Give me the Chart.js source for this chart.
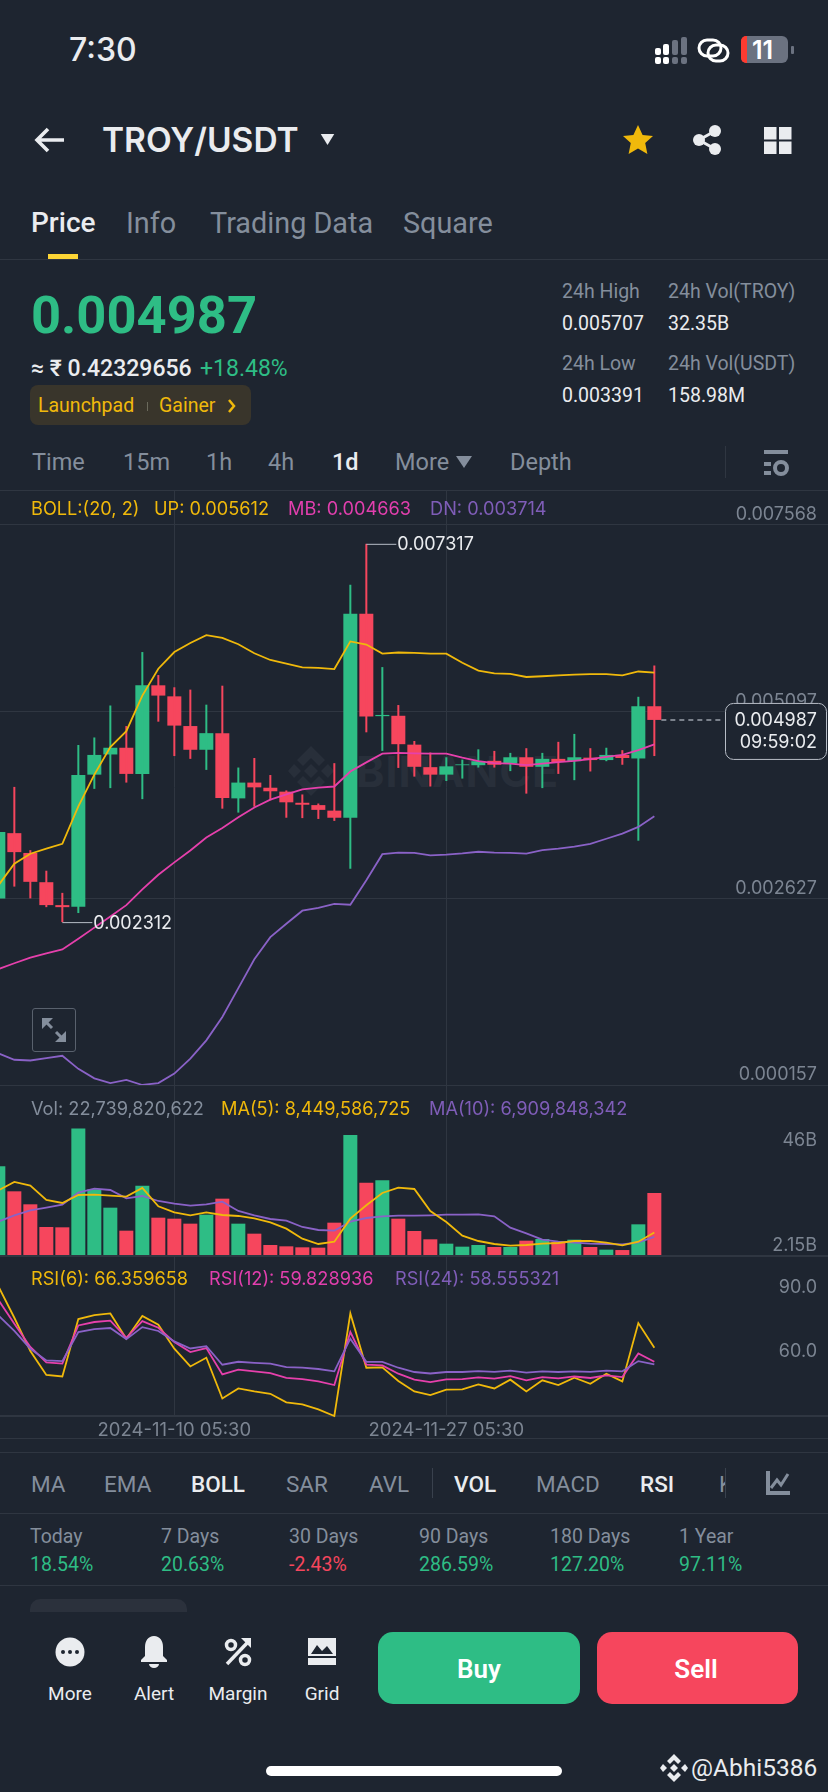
<!DOCTYPE html>
<html>
<head>
<meta charset="utf-8">
<title>TROY/USDT</title>
<script src="https://cdn.jsdelivr.net/npm/chart.js@4/dist/chart.umd.min.js"></script>
<style>
html,body{margin:0;padding:0;background:#1e2530;}
#page{position:relative;width:828px;height:1792px;overflow:hidden;background:#1e2530;font-family:Inter,Roboto,sans-serif;color:#eaecef;}
#page canvas{position:absolute;left:0;}
.t{position:absolute;white-space:nowrap;transform:translateY(-50%);line-height:1;}
.dim{color:#848e9c;}
.line{position:absolute;left:0;width:828px;height:1px;background:#2f3641;}
.g{color:#2ebd85;}
.r{color:#f6465d;}
.y{color:#f0b90b;}
.leg{font-size:18.2px;}
.stat{font-size:19.5px;font-family:Roboto,sans-serif;}
.head{font-size:19.5px;font-family:Roboto,sans-serif;}
.tf{font-size:23.5px;font-family:Roboto,sans-serif;color:#848e9c;}
.ind{font-size:22.5px;font-family:Roboto,sans-serif;color:#848e9c;}
.tab{font-size:28.8px;font-family:Roboto,sans-serif;}
.on{color:#eaecef;font-weight:500;}
svg{position:absolute;}
</style>
</head>
<body>
<div id="page">
  <!-- status bar -->
  <div class="t" style="left:69px;top:50px;font-size:32px;font-weight:500;">7:30</div>
  <svg style="left:654px;top:36px" width="142" height="28" viewBox="0 0 142 28">
    <g fill="#fff"><rect x="1" y="12" width="6" height="7" rx="2"/><rect x="1" y="21" width="6" height="7" rx="2"/><rect x="9" y="8" width="6" height="11" rx="2"/><rect x="9" y="21" width="6" height="7" rx="2"/></g>
    <g fill="#6b7280"><rect x="18" y="4" width="6" height="15" rx="2"/><rect x="18" y="21" width="6" height="7" rx="2"/><rect x="27" y="1" width="6" height="18" rx="2"/><rect x="27" y="21" width="6" height="7" rx="2"/></g>
    <g fill="none" stroke="#fff" stroke-width="3"><rect x="45" y="4" width="22" height="16" rx="8"/><rect x="54" y="9" width="20" height="16" rx="8"/></g>
    <rect x="87" y="0" width="47" height="27" rx="6" fill="#6b7280"/>
    <path d="M93 0h-1a5 5 0 0 0-5 5v17a5 5 0 0 0 5 5h1z" fill="#ff3b30"/>
    <rect x="137" y="10" width="3" height="8" rx="1" fill="#6b7280"/>
  </svg>
  <div class="t" style="left:752px;top:50px;font-size:25px;font-weight:600;color:#fff;">11</div>

  <!-- header -->
  <svg style="left:34px;top:126px" width="32" height="28" viewBox="0 0 32 28"><path d="M30 14H4M14 3L3 14l11 11" fill="none" stroke="#eaecef" stroke-width="3.6"/></svg>
  <div class="t" style="left:102px;top:141px;font-size:33.5px;font-weight:600;">TROY/USDT</div>
  <svg style="left:320px;top:134px" width="15" height="11" viewBox="0 0 16 13"><path d="M0 0h16L8 13z" fill="#eaecef"/></svg>
  <svg style="left:622px;top:124px" width="32" height="32" viewBox="0 0 32 32"><path d="M16 1l4.6 10 10.4 1-7.8 7 2.2 11L16 24.6 6.600 30l2.200-11L1 12l10.400-1z" fill="#f0b90b"/></svg>
  <svg style="left:692px;top:125px" width="30" height="30" viewBox="0 0 30 30"><g fill="#eaecef"><circle cx="23" cy="6" r="6"/><circle cx="7" cy="15" r="6"/><circle cx="23" cy="24" r="6"/></g><path d="M23 6L7 15l16 9" fill="none" stroke="#eaecef" stroke-width="3"/></svg>
  <svg style="left:764px;top:127px" width="28" height="27" viewBox="0 0 28 27"><g fill="#eaecef"><rect width="12.500" height="12.500"/><rect x="15" width="12.500" height="12.500"/><rect y="14.500" width="12.500" height="12.500"/><rect x="15" y="14.500" width="12.500" height="12.500"/></g></svg>

  <!-- tabs -->
  <div class="t on" style="left:31px;top:223px;font-size:28px;font-family:Roboto,sans-serif;">Price</div>
  <div class="t tab dim" style="left:126px;top:223px;">Info</div>
  <div class="t tab dim" style="left:210px;top:223px;">Trading Data</div>
  <div class="t tab dim" style="left:403px;top:223px;">Square</div>
  <div style="position:absolute;left:48px;top:254px;width:30px;height:5px;background:#fcd535;"></div>
  <div class="line" style="top:259px;"></div>

  <!-- price block -->
  <div class="t g" style="left:31px;top:315px;font-size:52.5px;font-weight:700;font-family:Roboto,sans-serif;">0.004987</div>
  <div class="t" style="left:31px;top:368px;font-size:23px;font-family:Roboto,sans-serif;font-weight:500;">≈ ₹ 0.42329656</div>
  <div class="t g" style="left:200px;top:368px;font-size:23px;font-family:Roboto,sans-serif;">+18.48%</div>
  <div style="position:absolute;left:30px;top:385px;width:221px;height:40px;border-radius:8px;background:#39352b;"></div>
  <div class="t y" style="left:38px;top:406px;font-size:19.5px;font-family:Roboto,sans-serif;">Launchpad</div>
  <div style="position:absolute;left:147px;top:402px;width:1px;height:9px;background:#6b6a5c;"></div>
  <div class="t y" style="left:159px;top:406px;font-size:19.5px;font-family:Roboto,sans-serif;">Gainer</div>
  <svg style="left:227px;top:399px" width="9" height="14" viewBox="0 0 9 14"><path d="M2 1l5 6-5 6" fill="none" stroke="#f0b90b" stroke-width="2.500"/></svg>
  <div class="t dim head" style="left:562px;top:292px;">24h High</div>
  <div class="t dim head" style="left:668px;top:292px;">24h Vol(TROY)</div>
  <div class="t head" style="left:562px;top:324px;">0.005707</div>
  <div class="t head" style="left:668px;top:324px;">32.35B</div>
  <div class="t dim head" style="left:562px;top:364px;">24h Low</div>
  <div class="t dim head" style="left:668px;top:364px;">24h Vol(USDT)</div>
  <div class="t head" style="left:562px;top:396px;">0.003391</div>
  <div class="t head" style="left:668px;top:396px;">158.98M</div>

  <!-- timeframes -->
  <div class="t tf" style="left:32px;top:463px;">Time</div>
  <div class="t tf" style="left:123px;top:463px;">15m</div>
  <div class="t tf" style="left:206px;top:463px;">1h</div>
  <div class="t tf" style="left:268px;top:463px;">4h</div>
  <div class="t tf on" style="left:332px;top:463px;">1d</div>
  <div class="t tf" style="left:395px;top:463px;">More</div>
  <svg style="left:456px;top:456px" width="16" height="12" viewBox="0 0 16 12"><path d="M0 0h16L8 12z" fill="#848e9c"/></svg>
  <div class="t tf" style="left:510px;top:463px;">Depth</div>
  <div style="position:absolute;left:725px;top:446px;width:1px;height:32px;background:#2f3641;"></div>
  <svg style="left:764px;top:450px" width="26" height="28" viewBox="0 0 26 28"><g fill="#848e9c"><rect width="24" height="4"/><rect y="12" width="7" height="4"/><rect y="21" width="7" height="4"/></g><circle cx="17" cy="18" r="6" fill="none" stroke="#848e9c" stroke-width="4"/></svg>
  <div class="line" style="top:490px;"></div>

  <!-- watermark sits under the charts -->
  <svg style="left:288px;top:746px" width="46" height="50" viewBox="0 0 46 50"><g fill="#282f3a"><path d="M23 0l14 14-6 6-8-8-8 8-6-6z"/><path d="M23 50L9 36l6-6 8 8 8-8 6 6z"/><path d="M23 18l7 7-7 7-7-7z"/><path d="M6 18l7 7-7 7-6-7z"/><path d="M40 18l6 7-6 7-7-7z"/></g></svg>
  <div class="t" style="left:356px;top:771px;font-size:43px;font-weight:700;color:#282f3a;letter-spacing:1px;">BINANCE</div>

  <canvas id="priceChart" width="828" height="596" style="top:490px"></canvas>
  <canvas id="volChart" width="828" height="172" style="top:1085px"></canvas>
  <canvas id="rsiChart" width="828" height="184" style="top:1256px"></canvas>

  <!-- indicator legends -->
  <div class="t leg y" style="left:31px;top:508px;">BOLL:(20, 2)</div>
  <div class="t leg y" style="left:154px;top:508px;">UP: 0.005612</div>
  <div class="t leg" style="left:288px;top:508px;color:#e23fae;">MB: 0.004663</div>
  <div class="t leg" style="left:430px;top:508px;color:#7f5db8;">DN: 0.003714</div>
  <div class="t leg dim" style="left:31px;top:1108px;">Vol: 22,739,820,622</div>
  <div class="t leg y" style="left:221px;top:1108px;">MA(5): 8,449,586,725</div>
  <div class="t leg" style="left:429px;top:1108px;color:#7f5db8;">MA(10): 6,909,848,342</div>
  <div class="t leg y" style="left:31px;top:1278px;">RSI(6): 66.359658</div>
  <div class="t leg" style="left:209px;top:1278px;color:#e23fae;">RSI(12): 59.828936</div>
  <div class="t leg" style="left:395px;top:1278px;color:#7f5db8;">RSI(24): 58.555321</div>

  <!-- expand button -->
  <div style="position:absolute;left:32px;top:1008px;width:42px;height:42px;border:1px solid #59616d;border-radius:3px;"></div>
  <svg style="left:41px;top:1017px" width="26" height="26" viewBox="0 0 26 26"><g fill="none" stroke="#848e9c" stroke-width="3"><path d="M3 3l8 8M15 15l8 8"/></g><path d="M1 1h11L1 12zM25 25H14l11-11z" fill="#848e9c"/></svg>

  <div class="line" style="top:1438px;"></div>
  <div class="line" style="top:1452px;"></div>

  <!-- indicator tabs -->
  <div class="t ind" style="left:31px;top:1484px;">MA</div>
  <div class="t ind" style="left:104px;top:1484px;">EMA</div>
  <div class="t ind on" style="left:191px;top:1484px;">BOLL</div>
  <div class="t ind" style="left:286px;top:1484px;">SAR</div>
  <div class="t ind" style="left:369px;top:1484px;">AVL</div>
  <div style="position:absolute;left:432px;top:1468px;width:1px;height:30px;background:#39414d;"></div>
  <div class="t ind on" style="left:454px;top:1484px;">VOL</div>
  <div class="t ind" style="left:536px;top:1484px;">MACD</div>
  <div class="t ind on" style="left:640px;top:1484px;">RSI</div>
  <div style="position:absolute;left:719px;top:1470px;width:6px;height:30px;overflow:hidden;"><div class="t ind" style="left:0;top:14px;">K</div></div>
  <div style="position:absolute;left:725px;top:1468px;width:1px;height:30px;background:#39414d;"></div>
  <svg style="left:766px;top:1471px" width="24" height="25" viewBox="0 0 24 25"><path d="M2 0v22h22" fill="none" stroke="#848e9c" stroke-width="4"/><path d="M5 17l6-8 4 5 7-11" fill="none" stroke="#848e9c" stroke-width="3"/></svg>
  <div class="line" style="top:1513px;"></div>

  <!-- period stats -->
  <div class="t dim stat" style="left:30px;top:1537px;">Today</div>
  <div class="t dim stat" style="left:161px;top:1537px;">7 Days</div>
  <div class="t dim stat" style="left:289px;top:1537px;">30 Days</div>
  <div class="t dim stat" style="left:419px;top:1537px;">90 Days</div>
  <div class="t dim stat" style="left:550px;top:1537px;">180 Days</div>
  <div class="t dim stat" style="left:679px;top:1537px;">1 Year</div>
  <div class="t g stat" style="left:30px;top:1565px;">18.54%</div>
  <div class="t g stat" style="left:161px;top:1565px;">20.63%</div>
  <div class="t r stat" style="left:289px;top:1565px;">-2.43%</div>
  <div class="t g stat" style="left:419px;top:1565px;">286.59%</div>
  <div class="t g stat" style="left:550px;top:1565px;">127.20%</div>
  <div class="t g stat" style="left:679px;top:1565px;">97.11%</div>
  <div class="line" style="top:1585px;"></div>
  <div style="position:absolute;left:30px;top:1599px;width:157px;height:13px;background:#2b313c;border-radius:10px 10px 0 0;"></div>

  <!-- bottom actions -->
  <svg style="left:55px;top:1637px" width="30" height="30" viewBox="0 0 30 30"><circle cx="15" cy="15" r="14.500" fill="#eaecef"/><g fill="#1e2530"><circle cx="8" cy="15" r="2"/><circle cx="15" cy="15" r="2"/><circle cx="22" cy="15" r="2"/></g></svg>
  <svg style="left:140px;top:1636px" width="28" height="32" viewBox="0 0 28 32"><path d="M14 0c6 0 9 5 9 11v9l4 4v2H1v-2l4-4v-9C5 5 8 0 14 0z" fill="#eaecef"/><path d="M9 28h10a5 4 0 0 1-10 0z" fill="#eaecef"/></svg>
  <svg style="left:224px;top:1638px" width="28" height="29" viewBox="0 0 28 29"><g fill="none" stroke="#eaecef" stroke-width="3.500"><circle cx="7" cy="7" r="4.500"/><circle cx="21" cy="22" r="4.500"/><path d="M3 26L25 3"/></g><path d="M17 0h10v10z" fill="#eaecef"/></svg>
  <svg style="left:308px;top:1638px" width="28" height="28" viewBox="0 0 28 28"><path d="M0 0h28v18H0z" fill="#eaecef"/><path d="M3 16l6-9 5 6 5-5 6 8z" fill="#1e2530"/><rect y="20" width="28" height="7" fill="#eaecef"/></svg>
  <div class="t" style="left:70px;top:1693px;transform:translate(-50%,-50%);font-size:19px;font-family:Roboto,sans-serif;">More</div>
  <div class="t" style="left:154px;top:1693px;transform:translate(-50%,-50%);font-size:19px;font-family:Roboto,sans-serif;">Alert</div>
  <div class="t" style="left:238px;top:1693px;transform:translate(-50%,-50%);font-size:19px;font-family:Roboto,sans-serif;">Margin</div>
  <div class="t" style="left:322px;top:1693px;transform:translate(-50%,-50%);font-size:19px;font-family:Roboto,sans-serif;">Grid</div>
  <div style="position:absolute;left:378px;top:1632px;width:202px;height:72px;border-radius:15px;background:#2ebd85;"></div>
  <div style="position:absolute;left:597px;top:1632px;width:201px;height:72px;border-radius:15px;background:#f6465d;"></div>
  <div class="t" style="left:479px;top:1669px;transform:translate(-50%,-50%);font-size:26px;font-weight:600;color:#fff;font-family:Roboto,sans-serif;">Buy</div>
  <div class="t" style="left:696px;top:1669px;transform:translate(-50%,-50%);font-size:26px;font-weight:600;color:#fff;font-family:Roboto,sans-serif;">Sell</div>
  <div style="position:absolute;left:266px;top:1766px;width:296px;height:10px;border-radius:5px;background:#fff;"></div>
  <svg style="left:660px;top:1754px" width="28" height="28" viewBox="0 0 28 28"><g fill="#eaecef"><path d="M14 0l7 7-3 3-4-4-4 4-3-3z"/><path d="M14 28l-7-7 3-3 4 4 4-4 3 3z"/><path d="M14 10l4 4-4 4-4-4z"/><path d="M3 10l4 4-4 4-3-4z"/><path d="M25 10l3 4-3 4-4-4z"/></g></svg>
  <div class="t" style="left:691px;top:1768px;font-size:24.500px;font-family:Roboto,sans-serif;color:#eaecef;">@Abhi5386</div>
</div>

<script>
// candles, oldest first. first one is mostly cut off by the left edge
const dates = ['2024-10-30','2024-10-31','2024-11-01','2024-11-02','2024-11-03','2024-11-04','2024-11-05','2024-11-06','2024-11-07','2024-11-08','2024-11-09','2024-11-10','2024-11-11','2024-11-12','2024-11-13','2024-11-14','2024-11-15','2024-11-16','2024-11-17','2024-11-18','2024-11-19','2024-11-20','2024-11-21','2024-11-22','2024-11-23','2024-11-24','2024-11-25','2024-11-26','2024-11-27','2024-11-28','2024-11-29','2024-11-30','2024-12-01','2024-12-02','2024-12-03','2024-12-04','2024-12-05','2024-12-06','2024-12-07','2024-12-08','2024-12-09','2024-12-10'];
const xTickDates = ['2024-11-10','2024-11-27'];

// prices in millionths of a USDT
const opens  = [2626,3489,3227,2840,2537,2516,4263,4530,4619,4273,5445,5299,4906,4592,4812,3949,4158,4090,4038,3891,3860,3787,3693,6392,5037,5042,4660,4362,4263,4388,4388,4446,4409,4493,4367,4472,4441,4488,4456,4524,4477,5168];
const highs  = [3750,4101,3264,2992,2699,4655,4755,5178,4906,5885,5581,5419,5388,5189,5440,4357,4483,4258,4054,4001,3881,4415,6774,7317,5686,5184,4708,4556,4493,4462,4598,4577,4551,4613,4551,4697,4802,4613,4619,4587,5293,5707];
const lows   = [2537,2782,2626,2510,2312,2432,4075,4085,4158,3939,4964,4509,4472,4326,3813,3761,3839,3923,3693,3688,3677,3651,3018,4823,4577,4352,4237,4106,4179,4211,4357,4357,4310,4012,4085,4273,4190,4305,4441,4394,3389,4509];
const closes = [3504,3238,2845,2537,2510,4258,4524,4619,4273,5445,5309,4912,4592,4812,3954,4158,4095,4043,3897,3865,3797,3693,6392,5032,5053,4666,4367,4263,4373,4399,4441,4394,4493,4367,4472,4430,4493,4456,4524,4483,5168,4987];
const bollUp = [2798,3086,3217,3285,3348,3844,4263,4629,4838,5309,5665,5885,6005,6109,6073,5989,5869,5780,5733,5681,5675,5660,6026,5984,5864,5879,5874,5864,5864,5743,5639,5602,5597,5555,5565,5576,5586,5592,5592,5576,5628,5612];
const bollMb = [1689,1768,1841,1899,1951,2092,2239,2385,2537,2746,2939,3102,3259,3431,3557,3698,3829,3933,4001,4069,4090,4106,4305,4425,4540,4551,4545,4540,4540,4488,4441,4415,4409,4388,4409,4430,4446,4467,4498,4524,4587,4663];
const bollDn = [575,491,481,512,544,371,245,183,225,157,183,308,507,748,1056,1438,1820,2113,2291,2463,2500,2552,2542,2866,3211,3232,3227,3196,3206,3222,3243,3232,3227,3217,3264,3285,3311,3348,3415,3484,3572,3714];
const priceTicks = [157,2627,5097,7568];

// volume in billions
const volumes = [32.36,23.34,18.65,10.47,10.35,46.0,24.06,17.44,9.14,25.38,13.83,13.47,11.67,14.92,20.69,11.67,8.06,3.97,3.49,3.13,3.01,12.03,43.67,26.47,27.31,13.47,9.02,6.02,4.45,3.37,3.97,3.25,3.25,5.53,6.14,5.05,5.89,3.25,2.29,2.15,11.43,22.74];
const volMa5 = [23.7,26.71,25.38,20.21,19.13,22.01,22.14,21.77,21.41,24.54,17.92,15.76,14.68,15.76,14.8,14.44,13.59,12.15,9.86,6.26,4.33,5.17,13.47,18.29,22.74,24.66,24.18,16.24,12.27,7.34,5.41,4.33,3.73,3.97,4.45,4.69,5.41,5.41,4.81,3.85,5.17,8.45];
const volMa10 = [12.39,14.68,16.48,17.44,18.53,22.86,24.3,23.82,20.81,21.65,19.85,18.89,18.17,18.65,19.61,16.24,14.68,13.35,12.75,10.47,9.38,9.14,12.39,13.71,14.32,14.56,14.56,14.68,14.92,14.92,15.04,14.32,10.23,8.18,5.89,5.17,4.81,4.45,4.33,4.21,4.93,6.91];
const volTicks = [46,2.15];

const rsi6 = [95.1,80.4,64.8,53.6,52.9,79.8,81.6,82.4,70.6,81.2,77.1,65.9,57.6,61.7,42.6,47.3,45.9,44.8,40.8,39.8,37.5,34.4,82.4,57.0,57.2,50.8,45.9,44.2,46.7,46.9,49.2,47.3,51.4,45.9,51.1,48.9,52.3,49.5,54.2,50.6,77.9,66.36];
const rsi12 = [88.8,77.6,66.7,59.5,58.9,76.8,78.4,79.0,71.0,78.8,75.7,69.0,64.3,66.2,53.9,56.1,55.3,54.5,52.2,51.7,50.6,48.9,73.7,58.4,58.1,54.2,51.4,50.3,51.5,51.7,52.5,51.9,53.1,51.1,52.6,52.0,52.9,52.2,53.4,52.6,63.7,59.83];
const rsi24 = [81.5,74.2,65.9,60.4,60.1,73.7,75.1,75.6,70.4,76.0,74.2,69.3,66.0,67.1,58.4,59.8,59.3,58.9,57.3,57.0,56.4,55.3,70.6,59.8,59.7,57.0,55.0,54.3,55.0,55.0,55.4,55.1,55.6,54.7,55.3,55.0,55.3,55.1,55.6,55.3,60.1,58.56];
const rsiTicks = [90,60];

const GREEN = '#2ebd85', RED = '#f6465d', YELLOW = '#f0b90b', PINK = '#e640ac', PURPLE = '#8a62c7';
const GRID = '#2f3641', AXIS_TEXT = '#7c8592', FONT = 'Inter, Roboto, sans-serif';

const candleColors = closes.map(function (c, i) { return c >= opens[i] ? GREEN : RED; });

function pts(values) {
    return values.map(function (v, i) { return { x: i, y: v }; });
}
function ranges(a, b) {
    return a.map(function (v, i) { return { x: i, y: [v, b[i]] }; });
}
function lineSet(values, color, width) {
    return { type: 'line', data: pts(values), borderColor: color, borderWidth: width || 1.8, pointRadius: 0, tension: 0, order: 0 };
}
function barSet(data, width) {
    return { data: data, backgroundColor: candleColors, barThickness: width, grouped: false, borderWidth: 0, inflateAmount: 0, order: 1 };
}

// x runs on the candle index, one candle is 16px and candle 0 is centred just off the left edge
function xScale(showLabels) {
    return {
        type: 'linear', offset: false, min: 0.104, max: 51.854,
        grid: { color: GRID, offset: false, drawTicks: false },
        border: { display: showLabels, color: GRID, width: 2 },
        ticks: {
            display: showLabels, autoSkip: false, maxRotation: 0, color: AXIS_TEXT, padding: 3,
            font: { family: FONT, size: 18.5 },
            callback: function (v) { return dates[v] + ' 05:30'; }
        },
        afterBuildTicks: function (s) {
            s.ticks = xTickDates.map(function (d) { return { value: dates.indexOf(d) }; });
        },
        afterFit: function (s) { s.height = showLabels ? 24 : 0; }
    };
}

// tick labels on the y side are written by axisLabels below, the built in ones
// make the scale shrink away from the panel edges
function yScale(min, max, ticks, gridColor) {
    return {
        position: 'right', min: min, max: max,
        grid: { color: gridColor, drawTicks: false },
        border: { display: false },
        ticks: { display: false },
        afterBuildTicks: function (s) {
            s.ticks = ticks.map(function (v) { return { value: v }; });
        },
        afterFit: function (s) { s.width = 0; }
    };
}

function baseOptions(x, y, bottom) {
    return {
        responsive: false, animation: false, events: [],
        layout: { autoPadding: false, padding: { bottom: bottom } },
        plugins: { legend: { display: false }, tooltip: { enabled: false } },
        scales: { x: x, y: y }
    };
}

function priceText(v) { return (v / 1e6).toFixed(6); }

function axisLabels(ticks, fmt, shift) {
    return {
        id: 'axisLabels',
        beforeDatasetsDraw: function (chart) {
            const c = chart.ctx, sy = chart.scales.y;
            c.save();
            c.font = '18px ' + FONT;
            c.fillStyle = AXIS_TEXT;
            c.textAlign = 'right';
            c.textBaseline = 'middle';
            ticks.forEach(function (v, i) {
                c.fillText(fmt(v), 817, sy.getPixelForValue(v) + shift[i]);
            });
            c.restore();
        }
    };
}

// high / low callouts and the last price box
const priceMarks = {
    id: 'priceMarks',
    afterDatasetsDraw: function (chart) {
        const c = chart.ctx, sx = chart.scales.x, sy = chart.scales.y;
        const top = Math.max.apply(null, highs), bottom = Math.min.apply(null, lows);
        const last = closes[closes.length - 1];
        c.save();
        c.font = '18px ' + FONT;
        c.textBaseline = 'middle';

        [[top, highs.indexOf(top)], [bottom, lows.indexOf(bottom)]].forEach(function (m) {
            const px = sx.getPixelForValue(m[1]), py = sy.getPixelForValue(m[0]);
            c.strokeStyle = '#b7bdc6';
            c.lineWidth = 1;
            c.beginPath();
            c.moveTo(px, py + 0.5);
            c.lineTo(px + 30, py + 0.5);
            c.stroke();
            c.fillStyle = '#eaecef';
            c.textAlign = 'left';
            c.fillText(priceText(m[0]), px + 31, py + 1);
        });

        const ly = sy.getPixelForValue(last);
        const lx = sx.getPixelForValue(closes.length - 1) + 7;
        c.strokeStyle = '#9aa1ab';
        c.setLineDash([5, 4]);
        c.lineWidth = 1.5;
        c.beginPath();
        c.moveTo(lx, ly);
        c.lineTo(722, ly);
        c.stroke();
        c.setLineDash([]);

        c.fillStyle = '#1e2530';
        c.strokeStyle = '#b7bdc6';
        c.lineWidth = 1;
        c.beginPath();
        c.roundRect(725.5, ly - 16.5, 101, 56, 8);
        c.fill();
        c.stroke();
        c.fillStyle = '#eaecef';
        c.textAlign = 'right';
        c.fillText(priceText(last), 817, ly + 1);
        c.fillText('09:59:02', 817, ly + 23);
        c.restore();
    }
};

var priceChart = new Chart(document.getElementById('priceChart').getContext('2d'), {
    type: 'bar',
    data: {
        datasets: [
            lineSet(bollUp, YELLOW),
            lineSet(bollMb, PINK),
            lineSet(bollDn, PURPLE),
            barSet(ranges(lows, highs), 2),
            barSet(ranges(opens, closes), 14)
        ]
    },
    options: baseOptions(xScale(false), yScale(157, 8029, priceTicks, GRID), 1),
    plugins: [axisLabels(priceTicks, priceText, [-10, -10, -10, -10]), priceMarks]
});

var volOptions = baseOptions(xScale(false), yScale(0, 61.7, [0], GRID), 1);
volOptions.scales.y.grid.lineWidth = 2;

var volChart = new Chart(document.getElementById('volChart').getContext('2d'), {
    type: 'bar',
    data: {
        datasets: [
            lineSet(volMa5, YELLOW),
            lineSet(volMa10, PURPLE),
            barSet(pts(volumes), 14)
        ]
    },
    options: volOptions,
    plugins: [axisLabels(volTicks, function (v) { return v + 'B'; }, [12, -4])]
});

var rsiChart = new Chart(document.getElementById('rsiChart').getContext('2d'), {
    type: 'line',
    data: {
        datasets: [
            Object.assign(lineSet(rsi24, PURPLE), { clip: false }),
            Object.assign(lineSet(rsi12, PINK), { clip: false }),
            Object.assign(lineSet(rsi6, YELLOW), { clip: false })
        ]
    },
    options: baseOptions(xScale(true), yScale(34.4, 109.3, rsiTicks, 'transparent'), 0),
    plugins: [axisLabels(rsiTicks, function (v) { return v.toFixed(1); }, [-10, -10])]
});
</script>
</body>
</html>
